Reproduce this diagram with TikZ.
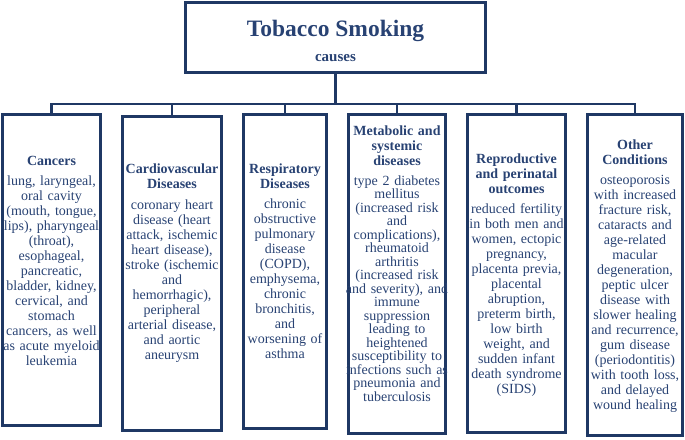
\documentclass[tikz,border=0pt]{standalone}
\usepackage{fontspec}
\setmainfont{Liberation Serif}
\usepackage{xcolor}
\definecolor{navy}{RGB}{31,56,100}
\definecolor{navytext}{RGB}{40,66,115}

\begin{document}
\begin{tikzpicture}[x=1pt,y=-1pt,
	topbox/.style={draw=navy, line width=2.8pt, minimum width=300pt, minimum height=70pt},
	catbox/.style={draw=navy, line width=2.8pt, inner sep=0pt},
	cattext/.style={text=navytext, text width=112pt, align=center, anchor=base, inner sep=0pt, font=\fontsize{14}{15}\selectfont},
	link/.style={draw=navy, line width=2.8pt}]
	\useasboundingbox (0,0) rectangle (685,439);
	
	% top box
	\node[topbox] (smoking) at (335.5,37.5) {};
	\node[text=navytext, font=\bfseries\fontsize{23.5}{25}\selectfont, anchor=base, inner sep=0pt] (title) at (335.5,36) {Tobacco Smoking};
	\node[text=navytext, font=\bfseries\fontsize{15}{16}\selectfont, anchor=base, inner sep=0pt] (causes) at (335.5,61) {causes};
	
	% category boxes
	\node[catbox, minimum width=98pt, minimum height=311pt] (cancer) at (51.5,270) {};
	\node[catbox, minimum width=99pt, minimum height=314pt] (cardio) at (172,273.5) {};
	\node[catbox, minimum width=83pt, minimum height=314pt] (resp) at (285,271.5) {};
	\node[catbox, minimum width=97pt, minimum height=319pt] (metab) at (397,274) {};
	\node[catbox, minimum width=98pt, minimum height=318pt] (repro) at (516.5,273.5) {};
	\node[catbox, minimum width=95pt, minimum height=321pt] (other) at (635,275) {};
	
	% connectors
	\coordinate (bus) at (335.5,104);
	\draw[link] (smoking.south) -- (bus);
	\foreach \n in {cancer,cardio,resp,metab,repro,other}
		\draw[link] (bus) -| (\n.north);
	
	% texts
	\node[cattext] (cancer-txt) at (51.5,165) {{\bfseries Cancers}\\[5pt]
		lung, laryngeal,\\ oral cavity\\ (mouth, tongue,\\ lips), pharyngeal\\ (throat),\\ esophageal,\\ pancreatic,\\ bladder, kidney,\\ cervical, and\\ stomach\\ cancers, as well\\ as acute myeloid\\ leukemia};
	\node[cattext] (cardio-txt) at (172,173) {{\bfseries Cardiovascular\\ Diseases}\\[6pt]
		coronary heart\\ disease (heart\\ attack, ischemic\\ heart disease),\\ stroke (ischemic\\ and\\ hemorrhagic),\\ peripheral\\ arterial disease,\\ and aortic\\ aneurysm};
	\node[cattext] (resp-txt) at (285,173) {{\bfseries Respiratory\\ Diseases}\\[5pt]
		chronic\\ obstructive\\ pulmonary\\ disease\\ (COPD),\\ emphysema,\\ chronic\\ bronchitis,\\ and\\ worsening of\\ asthma};
	\node[cattext, font=\fontsize{14}{13.5}\selectfont] (metab-txt) at (397,135) {{\bfseries Metabolic and\\[1.5pt] systemic\\[1.5pt] diseases}\\[6.5pt]
		type 2 diabetes\\ mellitus\\ (increased risk\\ and\\ complications),\\ rheumatoid\\ arthritis\\ (increased risk\\ and severity), and\\ immune\\ suppression\\ leading to\\ heightened\\ susceptibility to\\ infections such as\\ pneumonia and\\ tuberculosis};
	\node[cattext] (repro-txt) at (516.5,163) {{\bfseries Reproductive\\ and perinatal\\ outcomes}\\[5pt]
		reduced fertility\\ in both men and\\ women, ectopic\\ pregnancy,\\ placenta previa,\\ placental\\ abruption,\\ preterm birth,\\ low birth\\ weight, and\\ sudden infant\\ death syndrome\\ (SIDS)};
	\node[cattext] (other-txt) at (635,149) {{\bfseries Other\\ Conditions}\\[5pt]
		osteoporosis\\ with increased\\ fracture risk,\\ cataracts and\\ age-related\\ macular\\ degeneration,\\ peptic ulcer\\ disease with\\ slower healing\\ and recurrence,\\ gum disease\\ (periodontitis)\\ with tooth loss,\\ and delayed\\ wound healing};
	
\end{tikzpicture}
\end{document}
